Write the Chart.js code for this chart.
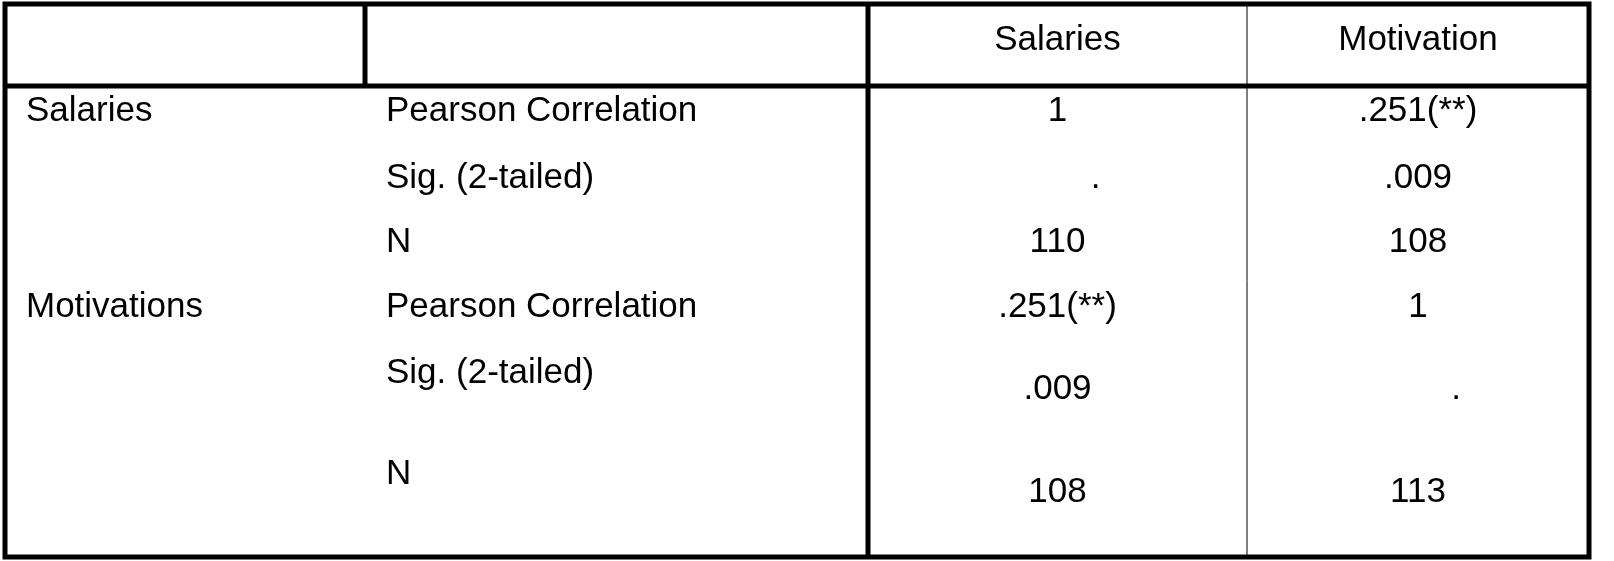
<!DOCTYPE html>
<html>
<head>
<meta charset="utf-8">
<script src="https://cdn.jsdelivr.net/npm/chart.js@4"></script>
<style>
  html, body { margin: 0; padding: 0; background: #fff; }
  #wrap { width: 1614px; height: 561px; }
</style>
</head>
<body>
<div id="wrap"><canvas id="tbl"></canvas></div>
<script>
  // table content
  const columnHeaders = ["Salaries", "Motivation"];
  const rowGroups = ["Salaries", "", "", "Motivations", "", ""];
  const statLabels = ["Pearson Correlation", "Sig. (2-tailed)", "N", "Pearson Correlation", "Sig. (2-tailed)", "N"];
  const salariesCol = ["1", ".", "110", ".251(**)", ".009", "108"];
  const motivationCol = [".251(**)", ".009", "108", "1", ".", "113"];

  // layout (pixel space of the picture)
  const colEdges = [5, 365, 868, 1247, 1589];
  const headerBottom = 86;
  const tableTop = 4, tableBottom = 557;
  const labelY = [111, 178, 242, 307, 373, 474];
  const valueY = [111, 178, 242, 307, 389, 492];

  const tablePlugin = {
    id: "tablePlugin",
    afterDraw(chart) {
      const { ctx, scales: { x, y } } = chart;
      const px = v => x.getPixelForValue(v);
      const py = v => y.getPixelForValue(v);
      ctx.save();
      ctx.strokeStyle = "#000";
      ctx.fillStyle = "#000";

      function line(x1, y1, x2, y2, w) {
        ctx.lineWidth = w;
        ctx.beginPath();
        ctx.moveTo(px(x1), py(y1));
        ctx.lineTo(px(x2), py(y2));
        ctx.stroke();
      }
      // outer frame
      ctx.lineWidth = 5;
      ctx.strokeRect(px(colEdges[0]), py(tableTop), px(colEdges[4]) - px(colEdges[0]), py(tableBottom) - py(tableTop));
      line(colEdges[0], headerBottom, colEdges[4], headerBottom, 5);
      line(colEdges[1], tableTop, colEdges[1], headerBottom, 5);
      line(colEdges[2], tableTop, colEdges[2], tableBottom, 5);
      line(colEdges[3], tableTop, colEdges[3], tableBottom, 1);

      ctx.font = "35px 'Liberation Sans', Arial, sans-serif";
      ctx.textBaseline = "middle";

      ctx.textAlign = "center";
      columnHeaders.forEach((h, i) => {
        ctx.fillText(h, px((colEdges[i + 2] + colEdges[i + 3]) / 2), py(40));
      });

      ctx.textAlign = "left";
      rowGroups.forEach((g, i) => { if (g) ctx.fillText(g, px(colEdges[0] + 21), py(labelY[i])); });
      statLabels.forEach((s, i) => ctx.fillText(s, px(colEdges[1] + 21), py(labelY[i])));

      ctx.textAlign = "center";
      [salariesCol, motivationCol].forEach((col, c) => {
        const cx = (colEdges[c + 2] + colEdges[c + 3]) / 2;
        col.forEach((v, r) => {
          const shift = v === "." ? 38 : 0;   // SPSS puts the lone dot at the decimal position
          ctx.fillText(v, px(cx + shift), py(valueY[r]));
        });
      });
      ctx.restore();
    }
  };

  new Chart(document.getElementById("tbl"), {
    type: "scatter",
    data: { datasets: [{ data: [], pointRadius: 0 }] },
    options: {
      responsive: true,
      maintainAspectRatio: false,
      animation: false,
      layout: { padding: 0 },
      plugins: { legend: { display: false }, tooltip: { enabled: false } },
      scales: {
        x: { type: "linear", min: 0, max: 1614, display: false },
        y: { type: "linear", min: 0, max: 561, reverse: true, display: false }
      }
    },
    plugins: [tablePlugin]
  });
</script>
</body>
</html>
